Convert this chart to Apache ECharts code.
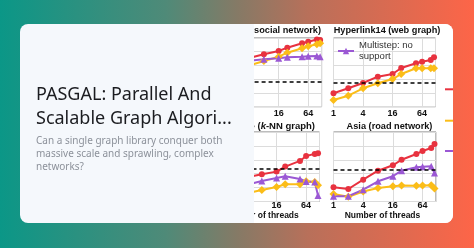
<!DOCTYPE html>
<html><head><meta charset="utf-8">
<script src="https://cdn.jsdelivr.net/npm/echarts@6/dist/echarts.min.js"></script>
<style>html,body{margin:0;padding:0;}#c{width:474px;height:248px;}</style>
</head><body><div id="c"></div>
<script>
// ---- data ----
const threads = [1, 2, 4, 8, 16, 24, 48, 64, 96, 112];
const xTickLabels = ['1', '4', '16', '64'];
const chartTitles = ['Twitter (social network)', 'Hyperlink14 (web graph)', 'GeoLife (k-NN graph)', 'Asia (road network)'];
const xAxisName = 'Number of threads';
const seriesNames = ['PASGAL', 'GBBS', 'Multistep'];
const legendNote = 'Multistep: no\nsupport';
const headline = ['PASGAL: Parallel And', 'Scalable Graph Algori...'];
const blurb = ['Can a single graph library conquer both', 'massive scale and sprawling, complex', 'networks?'];

const socialRed    = [60, 65.5, 70.9, 76.3, 81.1, 85.9, 92.3, 94.6, 97.8, 97.1];
const socialYellow = [48, 54, 60, 66.5, 72.8, 78.6, 85, 88, 90.8, 92.3];
const socialPurple = [60, 64, 67, 69, 70.5, 71.9, 72.8, 73.3, 73.8, 72.8];
const socialBase = 36.4;

const hyperRed    = [19.5, 26.8, 34.5, 43.7, 47.6, 56.3, 63.2, 65.5, 68, 71.9];
const hyperYellow = [9.8, 16, 26.8, 34.1, 40.3, 47.6, 55.9, 55.9, 55.9, 55.9];
const hyperBase = 34.9;

const knnRed    = [27, 31, 35, 39.3, 43, 50.2, 58.4, 65.6, 68.5, 69.5];
const knnYellow = [5, 8, 12, 16.5, 20.9, 24.9, 24.9, 29.2, 28.1, 23.3];
const knnPurple = [14, 19, 24, 29.5, 33.8, 36.3, 32.4, 28.8, 28.1, 8.6];
const knnBase = 47.8;

const asiaRed    = [20.4, 18, 31.4, 44.3, 52.1, 60.1, 68.3, 72.7, 77, 82.7];
const asiaYellow = [10.8, 6.9, 14.4, 19.4, 21.9, 23, 22.7, 23, 23.3, 18.7];
const asiaPurple = [7.5, 7.5, 17, 29.1, 36.3, 44.3, 49.2, 49.9, 50.6, 41];
const asiaBase = 45.8;

// ---- styling ----
const RED = '#e8323f', YEL = '#fbbd18', PUR = '#9b58d4';
const CARD = '#f5f8fc';
const grids = [
  {left: 219.6, top: 38, width: 102, height: 68.7},
  {left: 333.5, top: 38, width: 102, height: 68.7},
  {left: 217.5, top: 132, width: 102, height: 69.5},
  {left: 333.5, top: 132, width: 102.5, height: 69.5}
];
const pairs = arr => threads.map((t, i) => [t, arr[i]]);

const xAxes = grids.map((g, i) => ({
  type: 'log', logBase: 2, min: 1, max: 120, interval: 2, gridIndex: i,
  axisLine: {show: false}, axisTick: {show: false},
  axisLabel: {
    margin: i < 2 ? 2 : 0, color: '#111', fontWeight: 'bold', fontSize: 9,
    fontFamily: 'Liberation Sans',
    formatter: v => xTickLabels.indexOf(String(Math.round(v))) >= 0 ? String(Math.round(v)) : ''
  },
  splitLine: {show: true, lineStyle: {color: '#dcdcdc', width: 1}},
  name: i >= 2 ? xAxisName : '', nameLocation: 'middle', nameGap: 10,
  nameTextStyle: {color: '#111', fontWeight: 'bold', fontSize: 8.5, fontFamily: 'Liberation Sans',
    padding: i === 2 ? [0, 15, 0, 0] : [0, 4.5, 0, 0]}
}));
const yAxes = grids.map((g, i) => ({
  type: 'value', min: 0, max: 100, interval: 20, gridIndex: i,
  axisLine: {show: false}, axisTick: {show: false}, axisLabel: {show: false},
  splitLine: {show: true, lineStyle: {color: '#dcdcdc', width: 1}}
}));

function line(name, data, color, symbol, size, gi, base) {
  const s = {
    type: 'line', name, data: pairs(data), xAxisIndex: gi, yAxisIndex: gi,
    symbol, symbolSize: size, showSymbol: true,
    lineStyle: {color, width: 2}, itemStyle: {color},
    animation: false, z: 3
  };
  if (base != null) {
    s.markLine = {
      silent: true, symbol: 'none', label: {show: false},
      lineStyle: {color: '#000', type: [4, 3], width: 1.5},
      data: [{yAxis: base}], animation: false
    };
  }
  return s;
}

const series = [
  line(seriesNames[0], socialRed, RED, 'circle', 6, 0, socialBase),
  line(seriesNames[1], socialYellow, YEL, 'diamond', 8, 0),
  line(seriesNames[2], socialPurple, PUR, 'triangle', 7, 0),
  line(seriesNames[0], hyperRed, RED, 'circle', 6, 1, hyperBase),
  line(seriesNames[1], hyperYellow, YEL, 'diamond', 8, 1),
  {type: 'line', name: legendNote, data: [], xAxisIndex: 1, yAxisIndex: 1, symbol: 'triangle', symbolSize: 7,
   lineStyle: {color: PUR, width: 2}, itemStyle: {color: PUR}},
  line(seriesNames[0], knnRed, RED, 'circle', 6, 2, knnBase),
  line(seriesNames[1], knnYellow, YEL, 'diamond', 8, 2),
  line(seriesNames[2], knnPurple, PUR, 'triangle', 7, 2),
  line(seriesNames[0], asiaRed, RED, 'circle', 6, 3, asiaBase),
  line(seriesNames[1], asiaYellow, YEL, 'diamond', 8, 3),
  line(seriesNames[2], asiaPurple, PUR, 'triangle', 7, 3)
];

const titleFont = 'bold 9.2px "Liberation Sans"';
const graphic = [
  {type: 'rect', shape: {x: 20, y: 24, width: 433, height: 199, r: 8}, style: {fill: CARD}, z: -100, silent: true},
  {type: 'rect', shape: {x: 254, y: 24, width: 199, height: 199, r: [0, 8, 8, 0]}, style: {fill: '#ffffff'}, z: -99, silent: true},
  // chart titles
  {type: 'text', x: 321, y: 30, style: {text: chartTitles[0], font: titleFont, fill: '#111', align: 'right', verticalAlign: 'middle'}, z: 5},
  {type: 'text', x: 387, y: 30, style: {text: chartTitles[1], font: titleFont, fill: '#111', align: 'center', verticalAlign: 'middle'}, z: 5},
  {type: 'text', x: 315, y: 126, style: {
    text: '{a|GeoLife (}{i|k}{a|-NN graph)}', align: 'right', verticalAlign: 'middle',
    rich: {a: {font: 'bold 9.5px "Liberation Sans"', fill: '#111'}, i: {font: 'italic bold 9.5px "Liberation Sans"', fill: '#111'}}
  }, z: 5},
  {type: 'text', x: 389.5, y: 126.5, style: {text: chartTitles[3], font: titleFont, fill: '#111', align: 'center', verticalAlign: 'middle'}, z: 5},
  // legend stubs clipped at card edge
  {type: 'line', shape: {x1: 445, y1: 89.3, x2: 453, y2: 89.3}, style: {stroke: RED, lineWidth: 2}, z: 5},
  {type: 'line', shape: {x1: 445, y1: 120.7, x2: 453, y2: 120.7}, style: {stroke: YEL, lineWidth: 2}, z: 5},
  {type: 'line', shape: {x1: 445, y1: 151, x2: 453, y2: 151}, style: {stroke: PUR, lineWidth: 2}, z: 5},
  // cover of clipped image part
  {type: 'rect', shape: {x: 150, y: 24, width: 104, height: 199}, style: {fill: CARD}, z: 200, silent: true},
  // headline and blurb
  {type: 'text', x: 36, y: 94.5, style: {text: headline[0], font: '18px "Noto Sans"', fill: '#1b1c20', verticalAlign: 'middle'}, z: 210},
  {type: 'text', x: 36, y: 118.5, style: {text: headline[1], font: '18px "Noto Sans"', fill: '#1b1c20', verticalAlign: 'middle'}, z: 210},
  {type: 'text', x: 36, y: 141, style: {text: blurb[0], font: '10px "Noto Sans"', fill: '#8c919a', verticalAlign: 'middle'}, z: 210},
  {type: 'text', x: 36, y: 154.3, style: {text: blurb[1], font: '10px "Noto Sans"', fill: '#8c919a', verticalAlign: 'middle'}, z: 210},
  {type: 'text', x: 36, y: 167.6, style: {text: blurb[2], font: '10px "Noto Sans"', fill: '#8c919a', verticalAlign: 'middle'}, z: 210}
];

const chart = echarts.init(document.getElementById('c'), null, {renderer: 'canvas'});
chart.setOption({
  animation: false,
  backgroundColor: {type: 'linear', x: 0, y: 0, x2: 1, y2: 0, colorStops: [
    {offset: 0, color: '#0b9787'}, {offset: 0.35, color: '#4f8a78'}, {offset: 0.5, color: '#857a66'},
    {offset: 0.65, color: '#b8705a'}, {offset: 1, color: '#fd6548'}]},
  grid: grids.map(g => Object.assign({show: true, borderColor: '#7a7a7a', borderWidth: 1, backgroundColor: 'transparent'}, g)),
  xAxis: xAxes,
  yAxis: yAxes,
  legend: {
    data: [legendNote], left: 337, top: 35.5, itemWidth: 16, itemHeight: 8, itemGap: 2,
    textStyle: {fontSize: 9.5, color: '#333', fontFamily: 'Liberation Sans', lineHeight: 11, padding: [9, 0, 0, 0]},
    padding: 0, selectedMode: false
  },
  series,
  graphic
});
</script></body></html>
